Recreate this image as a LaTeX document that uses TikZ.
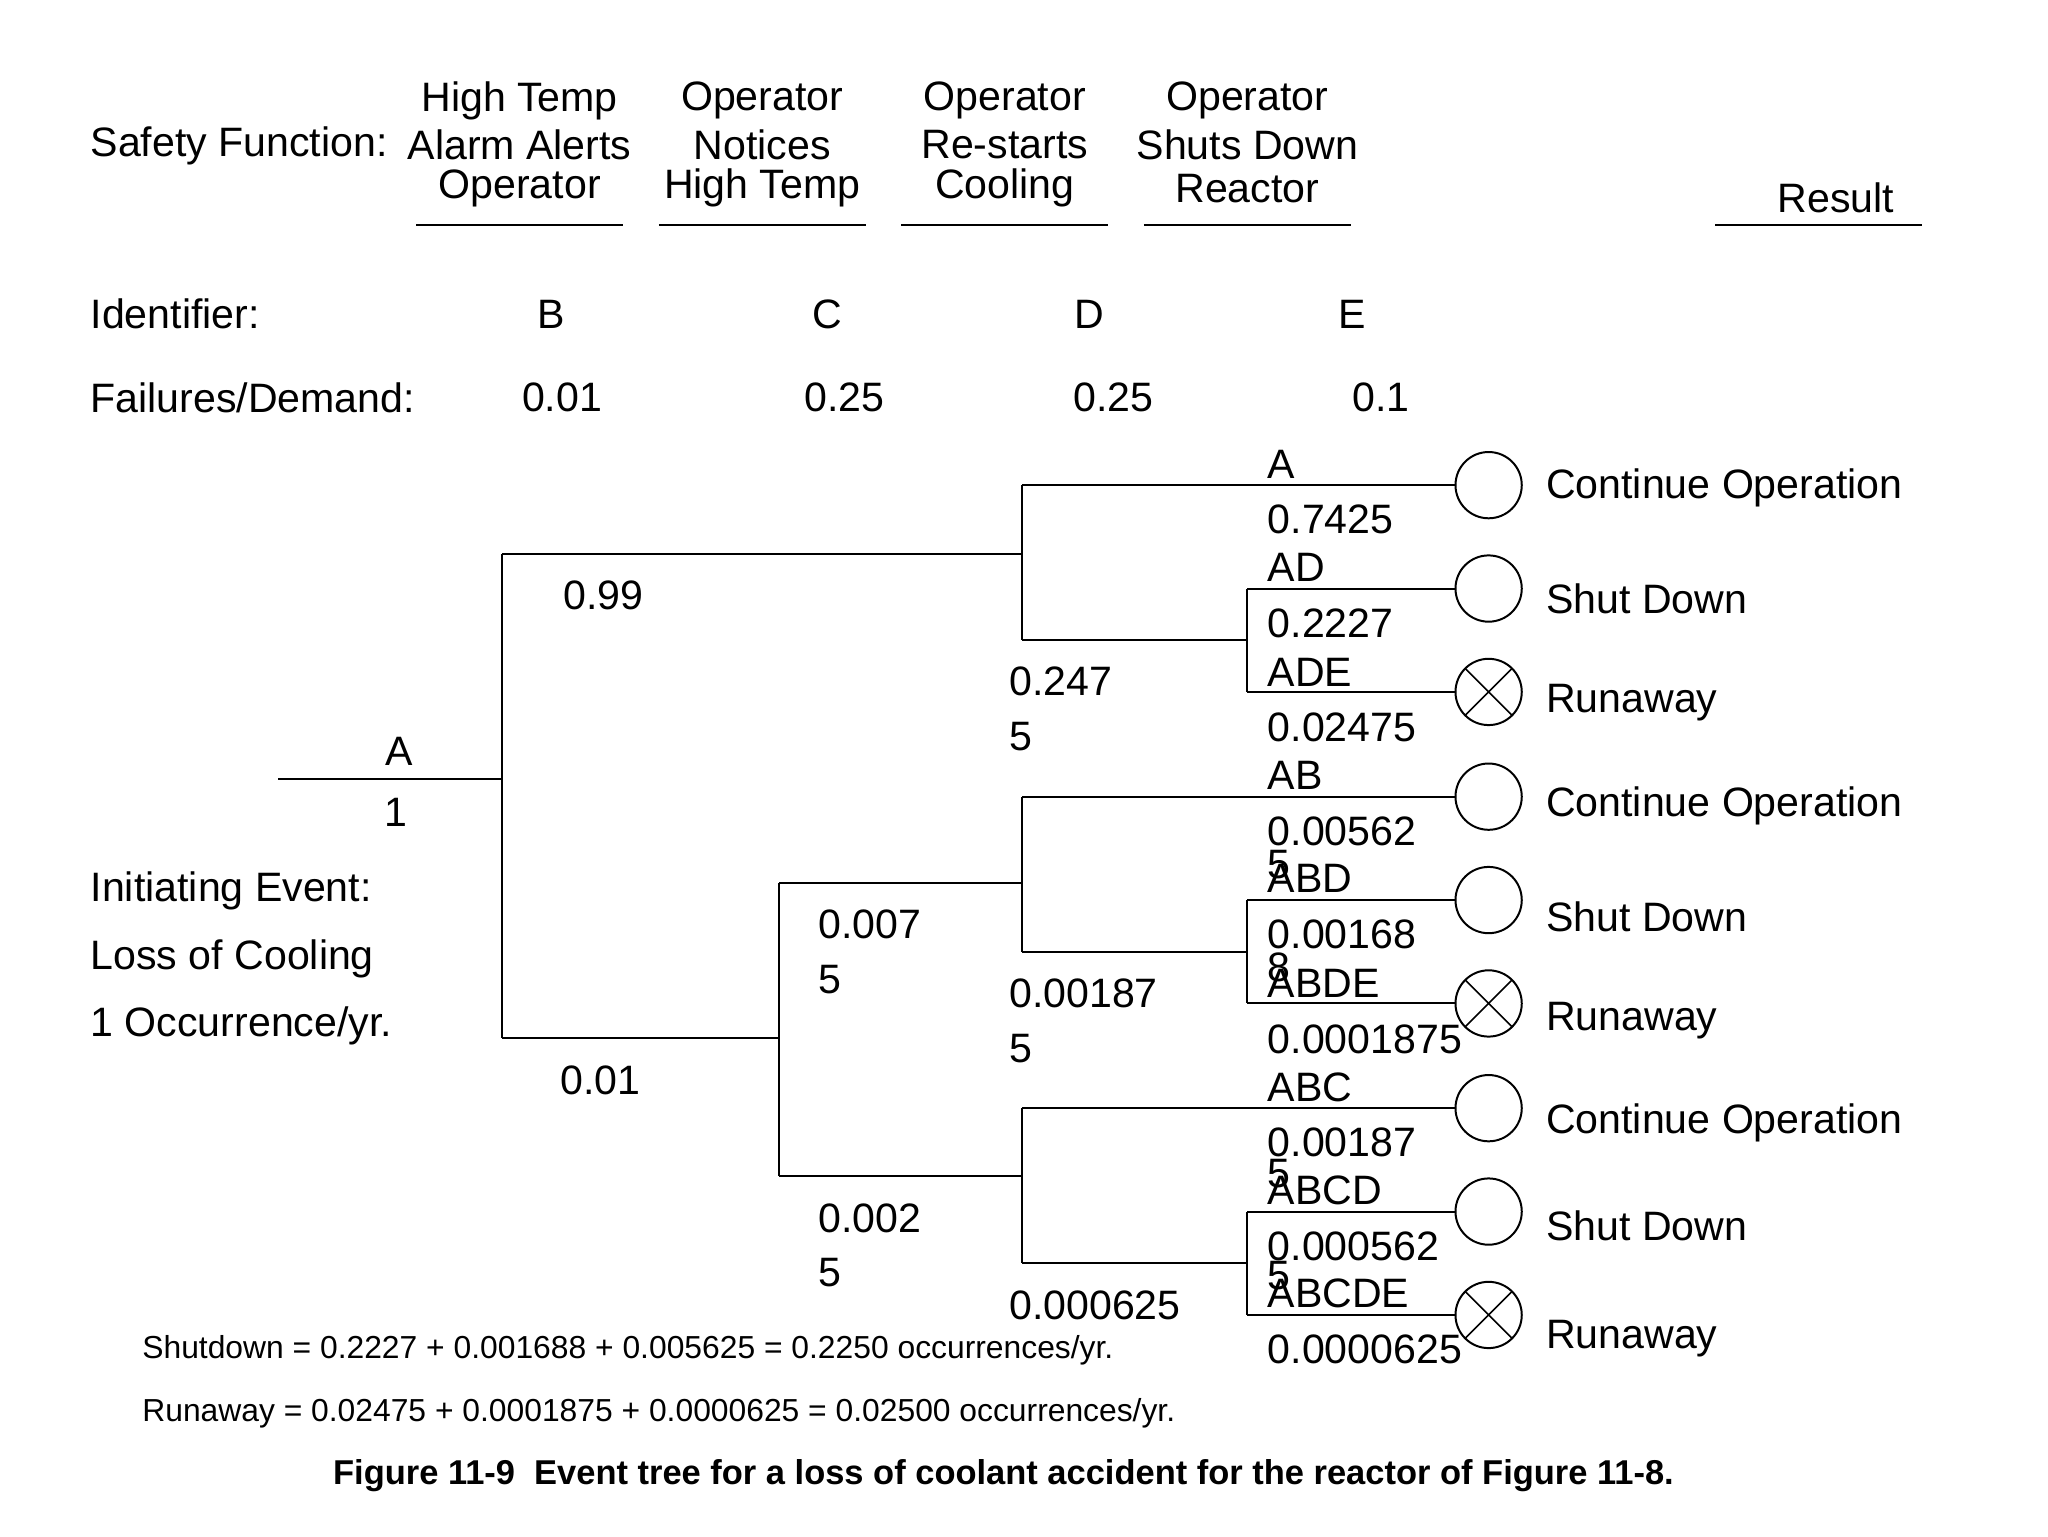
\documentclass[tikz,border=0pt]{standalone}
\usepackage{fontspec}
\setmainfont{Liberation Sans}
\begin{document}
\begin{tikzpicture}[x=0.5pt,y=-0.5pt,
  t/.style={inner sep=0pt,font=\fontsize{15.5}{17}\selectfont},
  tl/.style={t,anchor=west},
  sm/.style={inner sep=0pt,anchor=west,font=\fontsize{12}{14}\selectfont},
  ln/.style={line width=0.75pt},
  end/.style={circle,draw,line width=0.75pt,minimum size=25pt,inner sep=0pt},
  xend/.style={end,path picture={\draw[line width=0.6pt] (path picture bounding box.north west)--(path picture bounding box.south east) (path picture bounding box.north east)--(path picture bounding box.south west);}}]
\useasboundingbox (0,0) rectangle (1545,1159);
% header
\node[tl] (sf) at (68,110) {Safety Function:};
\foreach \x/\a/\b/\c [count=\i] in {392/High Temp/Alarm Alerts/Operator,575/Operator/Notices/High Temp,758/Operator/Re-starts/Cooling,941/Operator/Shuts Down/Reactor}{
  \node[t] (h\i a) at (\x,76) {\a};
  \node[t] (h\i b) at (\x,109) {\b};
  \node[t] (h\i c) at (\x,142) {\c};
  \draw[ln] (\x-78,170) -- (\x+78,170);
}
\node[t] (res) at (1385,149) {Result};
\draw[ln] (1294,170) -- (1450,170);
\node[tl] (idl) at (68,237) {Identifier:};
\node[t] (idB) at (416,237) {B};
\node[t] (idC) at (624,237) {C};
\node[t] (idD) at (822,237) {D};
\node[t] (idE) at (1020,237) {E};
\node[tl] (fdl) at (68,300) {Failures/Demand:};
\node[t] (fB) at (424,300) {0.01};
\node[t] (fC) at (637,300) {0.25};
\node[t] (fD) at (840,300) {0.25};
\node[t] (fE) at (1042,300) {0.1};
\node[tl] (ie1) at (68,672) {Initiating Event:};
\node[tl] (ie2) at (68,723) {Loss of Cooling};
\node[tl] (ie3) at (68,774) {1 Occurrence/yr.};
% tree
\coordinate (s) at (210,588);
\coordinate (n1) at (379,588);
\draw[ln] (s) -- (n1);
\node[t] (lA) at (301,567) {A};
\node[t] (l1) at (299,613) {1};
\draw[ln] (379,418) -- (379,783);
\draw[ln] (379,418) -- (771,418);
\node[t] (p99) at (455,449) {0.99};
\draw[ln] (379,783) -- (588,783);
\node[t] (p01) at (453,815) {0.01};
\draw[ln] (588,666) -- (588,887);
\draw[ln] (588,666) -- (771,666);
\node[tl] (q1) at (617,697) {0.007};
\node[tl] (q2) at (617,739) {5};
\draw[ln] (588,887) -- (771,887);
\node[tl] (r1) at (617,919) {0.002};
\node[tl] (r2) at (617,960) {5};
% ends
\foreach \y/\k [count=\i] in {366/end,444/end,522/xend,601/end,679/end,757/xend,836/end,914/end,992/xend}{
  \node[\k] (e\i) at (1123,\y) {};
}
\foreach \y/\r [count=\i] in {368/Continue Operation,452/Shut Down,530/Runaway,608/Continue Operation,692/Shut Down,770/Runaway,847/Continue Operation,925/Shut Down,1010/Runaway}{
  \node[tl] (res\i) at (1166,\y) {\r};
}
% groups
\foreach \ya/\yb/\yc/\yd in {366/483/444/522,601/718/679/757,836/953/914/992}{
  \draw[ln] (771,\ya) -- (771,\yb);
  \draw[ln] (771,\yb) -- (941,\yb);
  \draw[ln] (941,\yc) -- (941,\yd);
}
\draw[ln] (771,366) -- (e1); \draw[ln] (941,444) -- (e2); \draw[ln] (941,522) -- (e3);
\draw[ln] (771,601) -- (e4); \draw[ln] (941,679) -- (e5); \draw[ln] (941,757) -- (e6);
\draw[ln] (771,836) -- (e7); \draw[ln] (941,914) -- (e8); \draw[ln] (941,992) -- (e9);
\node[tl] (g1a) at (761,514) {0.247};
\node[tl] (g1b) at (761,556) {5};
\node[tl] (g2a) at (761,749) {0.00187};
\node[tl] (g2b) at (761,791) {5};
\node[tl] (g3a) at (761,985) {0.000625};
% outcome labels
\foreach \y/\a/\p [count=\i] in {350/A/0.7425,428/AD/0.2227,507/ADE/0.02475,585/AB/0.00562,663/ABD/0.00168,742/ABDE/0.0001875,820/ABC/0.00187,898/ABCD/0.000562,976/ABCDE/0.0000625}{
  \node[tl] (o\i) at (956,\y) {\a};
  \node[tl] (op\i) at (956,\y+42) {\p};
}
\node[tl] (x4) at (956,652) {5};
\node[tl] (x5) at (956,730) {8};
\node[tl] (x7) at (956,885) {5};
\node[tl] (x8) at (956,962) {5};
% footer
\node[sm] (sd) at (107,1019) {Shutdown = 0.2227 + 0.001688 + 0.005625 = 0.2250 occurrences/yr.};
\node[sm] (rw) at (107,1066) {Runaway = 0.02475 + 0.0001875 + 0.0000625 = 0.02500 occurrences/yr.};
\node[inner sep=0pt,font=\fontsize{13}{15}\selectfont\bfseries] (cap) at (757,1113) {Figure 11-9\ \ Event tree for a loss of coolant accident for the reactor of Figure 11-8.};
\end{tikzpicture}
\end{document}
